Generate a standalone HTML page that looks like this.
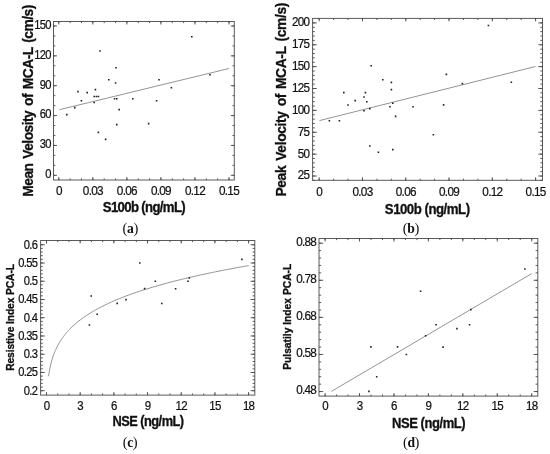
<!DOCTYPE html>
<html><head><meta charset="utf-8"><title>Figure</title>
<style>
html,body{margin:0;padding:0;background:#fff;}
svg{display:block;font-family:"Liberation Sans", sans-serif;}
</style></head><body>
<svg width="550" height="454" viewBox="0 0 550 454">
<rect width="550" height="454" fill="#fff"/>
<rect x="53.5" y="21.5" width="180.80" height="158.50" fill="none" stroke="#5a5a5a" stroke-width="1"/>
<path d="M58.80 180.0v-1.6M58.80 21.5v1.6M70.15 180.0v-1.6M70.15 21.5v1.6M81.49 180.0v-1.6M81.49 21.5v1.6M92.84 180.0v-1.6M92.84 21.5v1.6M104.19 180.0v-1.6M104.19 21.5v1.6M115.53 180.0v-1.6M115.53 21.5v1.6M126.88 180.0v-1.6M126.88 21.5v1.6M138.23 180.0v-1.6M138.23 21.5v1.6M149.57 180.0v-1.6M149.57 21.5v1.6M160.92 180.0v-1.6M160.92 21.5v1.6M172.27 180.0v-1.6M172.27 21.5v1.6M183.61 180.0v-1.6M183.61 21.5v1.6M194.96 180.0v-1.6M194.96 21.5v1.6M206.31 180.0v-1.6M206.31 21.5v1.6M217.65 180.0v-1.6M217.65 21.5v1.6M229.00 180.0v-1.6M229.00 21.5v1.6M58.80 180.0v-3.0M58.80 21.5v3.0M92.84 180.0v-3.0M92.84 21.5v3.0M126.88 180.0v-3.0M126.88 21.5v3.0M160.92 180.0v-3.0M160.92 21.5v3.0M194.96 180.0v-3.0M194.96 21.5v3.0M229.00 180.0v-3.0M229.00 21.5v3.0M53.5 175.30h1.8M234.3 175.30h-1.8M53.5 165.35h1.8M234.3 165.35h-1.8M53.5 155.39h1.8M234.3 155.39h-1.8M53.5 145.44h1.8M234.3 145.44h-1.8M53.5 135.49h1.8M234.3 135.49h-1.8M53.5 125.53h1.8M234.3 125.53h-1.8M53.5 115.58h1.8M234.3 115.58h-1.8M53.5 105.63h1.8M234.3 105.63h-1.8M53.5 95.67h1.8M234.3 95.67h-1.8M53.5 85.72h1.8M234.3 85.72h-1.8M53.5 75.77h1.8M234.3 75.77h-1.8M53.5 65.81h1.8M234.3 65.81h-1.8M53.5 55.86h1.8M234.3 55.86h-1.8M53.5 45.91h1.8M234.3 45.91h-1.8M53.5 35.95h1.8M234.3 35.95h-1.8M53.5 26.00h1.8M234.3 26.00h-1.8M53.5 175.30h3.5M234.3 175.30h-3.5M53.5 145.44h3.5M234.3 145.44h-3.5M53.5 115.58h3.5M234.3 115.58h-3.5M53.5 85.72h3.5M234.3 85.72h-3.5M53.5 55.86h3.5M234.3 55.86h-3.5M53.5 26.00h3.5M234.3 26.00h-3.5" stroke="#484848" stroke-width="0.9" fill="none"/>
<polyline points="59.40,109.70 229.00,68.50" fill="none" stroke="#949494" stroke-width="1"/>
<path d="M99.20 50.20h1.6v1.6h-1.6zM115.20 67.00h1.6v1.6h-1.6zM108.00 79.00h1.6v1.6h-1.6zM114.80 82.20h1.6v1.6h-1.6zM158.20 79.00h1.6v1.6h-1.6zM77.20 90.80h1.6v1.6h-1.6zM86.40 91.80h1.6v1.6h-1.6zM94.60 88.80h1.6v1.6h-1.6zM93.40 95.70h1.6v1.6h-1.6zM95.60 95.70h1.6v1.6h-1.6zM97.60 95.70h1.6v1.6h-1.6zM80.60 100.00h1.6v1.6h-1.6zM93.40 101.70h1.6v1.6h-1.6zM113.80 97.90h1.6v1.6h-1.6zM116.00 97.90h1.6v1.6h-1.6zM132.00 97.90h1.6v1.6h-1.6zM155.80 99.90h1.6v1.6h-1.6zM66.00 113.80h1.6v1.6h-1.6zM74.00 106.80h1.6v1.6h-1.6zM118.40 108.80h1.6v1.6h-1.6zM116.00 123.80h1.6v1.6h-1.6zM97.60 131.60h1.6v1.6h-1.6zM104.80 138.60h1.6v1.6h-1.6zM147.80 122.80h1.6v1.6h-1.6zM191.00 36.00h1.6v1.6h-1.6zM209.20 74.00h1.6v1.6h-1.6zM170.60 87.00h1.6v1.6h-1.6z" fill="#222"/>
<text transform="translate(58.80 194.80) scale(0.9400 1)" text-anchor="middle" font-size="12.5" letter-spacing="-0.75" stroke="#111" stroke-width="0.22" fill="#111">0</text>
<text transform="translate(92.84 194.80) scale(0.9400 1)" text-anchor="middle" font-size="12.5" letter-spacing="-0.75" stroke="#111" stroke-width="0.22" fill="#111">0.03</text>
<text transform="translate(126.88 194.80) scale(0.9400 1)" text-anchor="middle" font-size="12.5" letter-spacing="-0.75" stroke="#111" stroke-width="0.22" fill="#111">0.06</text>
<text transform="translate(160.92 194.80) scale(0.9400 1)" text-anchor="middle" font-size="12.5" letter-spacing="-0.75" stroke="#111" stroke-width="0.22" fill="#111">0.09</text>
<text transform="translate(194.96 194.80) scale(0.9400 1)" text-anchor="middle" font-size="12.5" letter-spacing="-0.75" stroke="#111" stroke-width="0.22" fill="#111">0.12</text>
<text transform="translate(229.00 194.80) scale(0.9400 1)" text-anchor="middle" font-size="12.5" letter-spacing="-0.75" stroke="#111" stroke-width="0.22" fill="#111">0.15</text>
<text transform="translate(50.70 178.20) scale(0.9400 1)" text-anchor="end" font-size="11.9" letter-spacing="-0.75" stroke="#111" stroke-width="0.22" fill="#111">0</text>
<text transform="translate(50.70 148.34) scale(0.9400 1)" text-anchor="end" font-size="11.9" letter-spacing="-0.75" stroke="#111" stroke-width="0.22" fill="#111">30</text>
<text transform="translate(50.70 118.48) scale(0.9400 1)" text-anchor="end" font-size="11.9" letter-spacing="-0.75" stroke="#111" stroke-width="0.22" fill="#111">60</text>
<text transform="translate(50.70 88.62) scale(0.9400 1)" text-anchor="end" font-size="11.9" letter-spacing="-0.75" stroke="#111" stroke-width="0.22" fill="#111">90</text>
<text transform="translate(50.70 58.76) scale(0.9400 1)" text-anchor="end" font-size="11.9" letter-spacing="-0.75" stroke="#111" stroke-width="0.22" fill="#111">120</text>
<text transform="translate(50.70 28.90) scale(0.9400 1)" text-anchor="end" font-size="11.9" letter-spacing="-0.75" stroke="#111" stroke-width="0.22" fill="#111">150</text>
<text transform="translate(143.90 212.25) scale(0.9300 1)" text-anchor="middle" font-size="14.2" font-weight="bold" letter-spacing="-0.716" stroke="#111" stroke-width="0.32" fill="#111">S100b (ng/mL)</text>
<text transform="translate(33.00 101.00) rotate(-90) scale(0.9200 1)" text-anchor="middle" font-size="15.0" font-weight="bold" letter-spacing="-0.56" word-spacing="1.6" stroke="#111" stroke-width="0.32" fill="#111">Mean Velosity of MCA-L (cm/s)</text>
<text x="130.2" y="233.0" text-anchor="middle" font-family="'Liberation Serif', 'DejaVu Serif', serif" font-size="14.6" letter-spacing="-0.35" fill="#111">(<tspan font-weight="bold" font-size="13.6">a</tspan>)</text>
<rect x="312.6" y="18.4" width="229.90" height="161.90" fill="none" stroke="#5a5a5a" stroke-width="1"/>
<path d="M319.20 180.3v-1.6M319.20 18.4v1.6M333.63 180.3v-1.6M333.63 18.4v1.6M348.05 180.3v-1.6M348.05 18.4v1.6M362.48 180.3v-1.6M362.48 18.4v1.6M376.91 180.3v-1.6M376.91 18.4v1.6M391.33 180.3v-1.6M391.33 18.4v1.6M405.76 180.3v-1.6M405.76 18.4v1.6M420.19 180.3v-1.6M420.19 18.4v1.6M434.61 180.3v-1.6M434.61 18.4v1.6M449.04 180.3v-1.6M449.04 18.4v1.6M463.47 180.3v-1.6M463.47 18.4v1.6M477.89 180.3v-1.6M477.89 18.4v1.6M492.32 180.3v-1.6M492.32 18.4v1.6M506.75 180.3v-1.6M506.75 18.4v1.6M521.17 180.3v-1.6M521.17 18.4v1.6M535.60 180.3v-1.6M535.60 18.4v1.6M319.20 180.3v-3.0M319.20 18.4v3.0M362.48 180.3v-3.0M362.48 18.4v3.0M405.76 180.3v-3.0M405.76 18.4v3.0M449.04 180.3v-3.0M449.04 18.4v3.0M492.32 180.3v-3.0M492.32 18.4v3.0M535.60 180.3v-3.0M535.60 18.4v3.0M312.6 180.37h2.2M542.5 180.37h-2.2M312.6 176.00h2.2M542.5 176.00h-2.2M312.6 171.63h2.2M542.5 171.63h-2.2M312.6 167.25h2.2M542.5 167.25h-2.2M312.6 162.88h2.2M542.5 162.88h-2.2M312.6 158.50h2.2M542.5 158.50h-2.2M312.6 154.13h2.2M542.5 154.13h-2.2M312.6 149.75h2.2M542.5 149.75h-2.2M312.6 145.38h2.2M542.5 145.38h-2.2M312.6 141.01h2.2M542.5 141.01h-2.2M312.6 136.63h2.2M542.5 136.63h-2.2M312.6 132.26h2.2M542.5 132.26h-2.2M312.6 127.88h2.2M542.5 127.88h-2.2M312.6 123.51h2.2M542.5 123.51h-2.2M312.6 119.13h2.2M542.5 119.13h-2.2M312.6 114.76h2.2M542.5 114.76h-2.2M312.6 110.39h2.2M542.5 110.39h-2.2M312.6 106.01h2.2M542.5 106.01h-2.2M312.6 101.64h2.2M542.5 101.64h-2.2M312.6 97.26h2.2M542.5 97.26h-2.2M312.6 92.89h2.2M542.5 92.89h-2.2M312.6 88.51h2.2M542.5 88.51h-2.2M312.6 84.14h2.2M542.5 84.14h-2.2M312.6 79.77h2.2M542.5 79.77h-2.2M312.6 75.39h2.2M542.5 75.39h-2.2M312.6 71.02h2.2M542.5 71.02h-2.2M312.6 66.64h2.2M542.5 66.64h-2.2M312.6 62.27h2.2M542.5 62.27h-2.2M312.6 57.89h2.2M542.5 57.89h-2.2M312.6 53.52h2.2M542.5 53.52h-2.2M312.6 49.15h2.2M542.5 49.15h-2.2M312.6 44.77h2.2M542.5 44.77h-2.2M312.6 40.40h2.2M542.5 40.40h-2.2M312.6 36.02h2.2M542.5 36.02h-2.2M312.6 31.65h2.2M542.5 31.65h-2.2M312.6 27.27h2.2M542.5 27.27h-2.2M312.6 22.90h2.2M542.5 22.90h-2.2M312.6 176.00h4.2M542.5 176.00h-4.2M312.6 154.13h4.2M542.5 154.13h-4.2M312.6 132.26h4.2M542.5 132.26h-4.2M312.6 110.39h4.2M542.5 110.39h-4.2M312.6 88.51h4.2M542.5 88.51h-4.2M312.6 66.64h4.2M542.5 66.64h-4.2M312.6 44.77h4.2M542.5 44.77h-4.2M312.6 22.90h4.2M542.5 22.90h-4.2" stroke="#484848" stroke-width="0.9" fill="none"/>
<polyline points="319.40,120.60 535.50,66.50" fill="none" stroke="#949494" stroke-width="1"/>
<path d="M370.40 65.00h1.6v1.6h-1.6zM382.00 79.00h1.6v1.6h-1.6zM390.60 81.60h1.6v1.6h-1.6zM390.60 88.80h1.6v1.6h-1.6zM343.00 91.80h1.6v1.6h-1.6zM364.60 91.80h1.6v1.6h-1.6zM363.20 96.20h1.6v1.6h-1.6zM354.40 99.80h1.6v1.6h-1.6zM366.00 101.00h1.6v1.6h-1.6zM347.20 104.20h1.6v1.6h-1.6zM363.20 110.00h1.6v1.6h-1.6zM369.00 107.80h1.6v1.6h-1.6zM389.20 106.00h1.6v1.6h-1.6zM392.00 102.40h1.6v1.6h-1.6zM412.20 106.00h1.6v1.6h-1.6zM394.80 115.60h1.6v1.6h-1.6zM328.60 120.00h1.6v1.6h-1.6zM338.60 120.00h1.6v1.6h-1.6zM369.00 145.20h1.6v1.6h-1.6zM377.60 151.40h1.6v1.6h-1.6zM392.00 148.80h1.6v1.6h-1.6zM487.60 24.70h1.6v1.6h-1.6zM445.60 73.60h1.6v1.6h-1.6zM461.60 82.80h1.6v1.6h-1.6zM510.50 81.50h1.6v1.6h-1.6zM442.80 104.10h1.6v1.6h-1.6zM432.60 133.90h1.6v1.6h-1.6z" fill="#222"/>
<text transform="translate(319.20 195.60) scale(0.9400 1)" text-anchor="middle" font-size="12.5" letter-spacing="-0.75" stroke="#111" stroke-width="0.22" fill="#111">0</text>
<text transform="translate(362.48 195.60) scale(0.9400 1)" text-anchor="middle" font-size="12.5" letter-spacing="-0.75" stroke="#111" stroke-width="0.22" fill="#111">0.03</text>
<text transform="translate(405.76 195.60) scale(0.9400 1)" text-anchor="middle" font-size="12.5" letter-spacing="-0.75" stroke="#111" stroke-width="0.22" fill="#111">0.06</text>
<text transform="translate(449.04 195.60) scale(0.9400 1)" text-anchor="middle" font-size="12.5" letter-spacing="-0.75" stroke="#111" stroke-width="0.22" fill="#111">0.09</text>
<text transform="translate(492.32 195.60) scale(0.9400 1)" text-anchor="middle" font-size="12.5" letter-spacing="-0.75" stroke="#111" stroke-width="0.22" fill="#111">0.12</text>
<text transform="translate(535.60 195.60) scale(0.9400 1)" text-anchor="middle" font-size="12.5" letter-spacing="-0.75" stroke="#111" stroke-width="0.22" fill="#111">0.15</text>
<text transform="translate(309.30 179.40) scale(0.9400 1)" text-anchor="end" font-size="12.4" letter-spacing="-0.75" stroke="#111" stroke-width="0.22" fill="#111">25</text>
<text transform="translate(309.30 157.53) scale(0.9400 1)" text-anchor="end" font-size="12.4" letter-spacing="-0.75" stroke="#111" stroke-width="0.22" fill="#111">50</text>
<text transform="translate(309.30 135.66) scale(0.9400 1)" text-anchor="end" font-size="12.4" letter-spacing="-0.75" stroke="#111" stroke-width="0.22" fill="#111">75</text>
<text transform="translate(309.30 113.79) scale(0.9400 1)" text-anchor="end" font-size="12.4" letter-spacing="-0.75" stroke="#111" stroke-width="0.22" fill="#111">100</text>
<text transform="translate(309.30 91.91) scale(0.9400 1)" text-anchor="end" font-size="12.4" letter-spacing="-0.75" stroke="#111" stroke-width="0.22" fill="#111">125</text>
<text transform="translate(309.30 70.04) scale(0.9400 1)" text-anchor="end" font-size="12.4" letter-spacing="-0.75" stroke="#111" stroke-width="0.22" fill="#111">150</text>
<text transform="translate(309.30 48.17) scale(0.9400 1)" text-anchor="end" font-size="12.4" letter-spacing="-0.75" stroke="#111" stroke-width="0.22" fill="#111">175</text>
<text transform="translate(309.30 26.30) scale(0.9400 1)" text-anchor="end" font-size="12.4" letter-spacing="-0.75" stroke="#111" stroke-width="0.22" fill="#111">200</text>
<text transform="translate(427.20 213.50) scale(0.9300 1)" text-anchor="middle" font-size="14.2" font-weight="bold" letter-spacing="-0.509" stroke="#111" stroke-width="0.32" fill="#111">S100b (ng/mL)</text>
<text transform="translate(285.70 99.80) rotate(-90) scale(0.9200 1)" text-anchor="middle" font-size="15.0" font-weight="bold" letter-spacing="-0.368" word-spacing="1.6" stroke="#111" stroke-width="0.32" fill="#111">Peak Velocity of MCA-L (cm/s)</text>
<text x="410.8" y="232.7" text-anchor="middle" font-family="'Liberation Serif', 'DejaVu Serif', serif" font-size="14.6" letter-spacing="-0.35" fill="#111">(<tspan font-weight="bold" font-size="13.6">b</tspan>)</text>
<rect x="40.6" y="240.5" width="214.20" height="154.60" fill="none" stroke="#5a5a5a" stroke-width="1"/>
<path d="M46.50 395.1v-1.6M46.50 240.5v1.6M57.73 395.1v-1.6M57.73 240.5v1.6M68.96 395.1v-1.6M68.96 240.5v1.6M80.18 395.1v-1.6M80.18 240.5v1.6M91.41 395.1v-1.6M91.41 240.5v1.6M102.64 395.1v-1.6M102.64 240.5v1.6M113.87 395.1v-1.6M113.87 240.5v1.6M125.09 395.1v-1.6M125.09 240.5v1.6M136.32 395.1v-1.6M136.32 240.5v1.6M147.55 395.1v-1.6M147.55 240.5v1.6M158.78 395.1v-1.6M158.78 240.5v1.6M170.01 395.1v-1.6M170.01 240.5v1.6M181.23 395.1v-1.6M181.23 240.5v1.6M192.46 395.1v-1.6M192.46 240.5v1.6M203.69 395.1v-1.6M203.69 240.5v1.6M214.92 395.1v-1.6M214.92 240.5v1.6M226.14 395.1v-1.6M226.14 240.5v1.6M237.37 395.1v-1.6M237.37 240.5v1.6M248.60 395.1v-1.6M248.60 240.5v1.6M46.50 395.1v-3.0M46.50 240.5v3.0M80.18 395.1v-3.0M80.18 240.5v3.0M113.87 395.1v-3.0M113.87 240.5v3.0M147.55 395.1v-3.0M147.55 240.5v3.0M181.23 395.1v-3.0M181.23 240.5v3.0M214.92 395.1v-3.0M214.92 240.5v3.0M248.60 395.1v-3.0M248.60 240.5v3.0M40.6 390.70h2.2M254.8 390.70h-2.2M40.6 387.05h2.2M254.8 387.05h-2.2M40.6 383.40h2.2M254.8 383.40h-2.2M40.6 379.75h2.2M254.8 379.75h-2.2M40.6 376.10h2.2M254.8 376.10h-2.2M40.6 372.46h2.2M254.8 372.46h-2.2M40.6 368.81h2.2M254.8 368.81h-2.2M40.6 365.16h2.2M254.8 365.16h-2.2M40.6 361.51h2.2M254.8 361.51h-2.2M40.6 357.86h2.2M254.8 357.86h-2.2M40.6 354.21h2.2M254.8 354.21h-2.2M40.6 350.56h2.2M254.8 350.56h-2.2M40.6 346.91h2.2M254.8 346.91h-2.2M40.6 343.27h2.2M254.8 343.27h-2.2M40.6 339.62h2.2M254.8 339.62h-2.2M40.6 335.97h2.2M254.8 335.97h-2.2M40.6 332.32h2.2M254.8 332.32h-2.2M40.6 328.67h2.2M254.8 328.67h-2.2M40.6 325.02h2.2M254.8 325.02h-2.2M40.6 321.37h2.2M254.8 321.37h-2.2M40.6 317.72h2.2M254.8 317.72h-2.2M40.6 314.08h2.2M254.8 314.08h-2.2M40.6 310.43h2.2M254.8 310.43h-2.2M40.6 306.78h2.2M254.8 306.78h-2.2M40.6 303.13h2.2M254.8 303.13h-2.2M40.6 299.48h2.2M254.8 299.48h-2.2M40.6 295.83h2.2M254.8 295.83h-2.2M40.6 292.18h2.2M254.8 292.18h-2.2M40.6 288.53h2.2M254.8 288.53h-2.2M40.6 284.89h2.2M254.8 284.89h-2.2M40.6 281.24h2.2M254.8 281.24h-2.2M40.6 277.59h2.2M254.8 277.59h-2.2M40.6 273.94h2.2M254.8 273.94h-2.2M40.6 270.29h2.2M254.8 270.29h-2.2M40.6 266.64h2.2M254.8 266.64h-2.2M40.6 262.99h2.2M254.8 262.99h-2.2M40.6 259.34h2.2M254.8 259.34h-2.2M40.6 255.70h2.2M254.8 255.70h-2.2M40.6 252.05h2.2M254.8 252.05h-2.2M40.6 248.40h2.2M254.8 248.40h-2.2M40.6 244.75h2.2M254.8 244.75h-2.2M40.6 390.70h4.2M254.8 390.70h-4.2M40.6 372.46h4.2M254.8 372.46h-4.2M40.6 354.21h4.2M254.8 354.21h-4.2M40.6 335.97h4.2M254.8 335.97h-4.2M40.6 317.72h4.2M254.8 317.72h-4.2M40.6 299.48h4.2M254.8 299.48h-4.2M40.6 281.24h4.2M254.8 281.24h-4.2M40.6 262.99h4.2M254.8 262.99h-4.2M40.6 244.75h4.2M254.8 244.75h-4.2" stroke="#484848" stroke-width="0.9" fill="none"/>
<polyline points="48.60,376.21 49.16,372.43 49.72,369.24 50.28,366.49 50.85,364.05 51.41,361.86 51.97,359.87 52.53,358.04 53.09,356.34 53.65,354.76 54.21,353.28 54.77,351.88 55.34,350.56 55.90,349.30 56.46,348.11 57.02,346.97 57.58,345.88 58.14,344.83 58.70,343.83 59.27,342.86 59.83,341.92 60.39,341.02 60.95,340.15 61.51,339.30 62.07,338.48 62.63,337.68 63.20,336.91 63.76,336.16 64.32,335.43 64.88,334.71 65.44,334.01 66.00,333.34 66.56,332.67 67.13,332.02 67.69,331.39 68.25,330.77 68.81,330.16 69.37,329.56 72.18,326.76 74.98,324.19 77.79,321.82 80.60,319.63 83.41,317.57 86.21,315.64 89.02,313.82 91.83,312.10 94.63,310.46 97.44,308.90 100.25,307.40 103.05,305.97 105.86,304.60 108.67,303.28 111.48,302.00 114.28,300.78 117.09,299.59 119.90,298.44 122.70,297.32 125.51,296.24 128.32,295.19 131.12,294.17 133.93,293.18 136.74,292.21 139.54,291.27 142.35,290.35 145.16,289.45 147.97,288.58 150.77,287.72 153.58,286.88 156.39,286.06 159.19,285.26 162.00,284.47 164.81,283.70 167.61,282.94 170.42,282.20 173.23,281.47 176.03,280.75 178.84,280.05 181.65,279.36 184.46,278.68 187.26,278.01 190.07,277.35 192.88,276.71 195.68,276.07 198.49,275.44 201.30,274.82 204.10,274.22 206.91,273.62 209.72,273.03 212.53,272.44 215.33,271.87 218.14,271.30 220.95,270.74 223.75,270.19 226.56,269.64 229.37,269.11 232.17,268.58 234.98,268.05 237.79,267.53 240.59,267.02 243.40,266.51 246.21,266.01 248.60,265.59" fill="none" stroke="#949494" stroke-width="1"/>
<path d="M139.00 262.20h1.6v1.6h-1.6zM90.40 295.20h1.6v1.6h-1.6zM116.40 302.60h1.6v1.6h-1.6zM125.20 298.80h1.6v1.6h-1.6zM96.40 313.40h1.6v1.6h-1.6zM88.60 324.20h1.6v1.6h-1.6zM143.80 287.80h1.6v1.6h-1.6zM241.10 258.60h1.6v1.6h-1.6zM154.50 280.50h1.6v1.6h-1.6zM188.50 277.20h1.6v1.6h-1.6zM187.20 280.50h1.6v1.6h-1.6zM174.80 287.90h1.6v1.6h-1.6zM161.00 302.70h1.6v1.6h-1.6z" fill="#222"/>
<text transform="translate(46.50 409.60) scale(0.9400 1)" text-anchor="middle" font-size="12.2" letter-spacing="-0.75" stroke="#111" stroke-width="0.22" fill="#111">0</text>
<text transform="translate(80.18 409.60) scale(0.9400 1)" text-anchor="middle" font-size="12.2" letter-spacing="-0.75" stroke="#111" stroke-width="0.22" fill="#111">3</text>
<text transform="translate(113.87 409.60) scale(0.9400 1)" text-anchor="middle" font-size="12.2" letter-spacing="-0.75" stroke="#111" stroke-width="0.22" fill="#111">6</text>
<text transform="translate(147.55 409.60) scale(0.9400 1)" text-anchor="middle" font-size="12.2" letter-spacing="-0.75" stroke="#111" stroke-width="0.22" fill="#111">9</text>
<text transform="translate(181.23 409.60) scale(0.9400 1)" text-anchor="middle" font-size="12.2" letter-spacing="-0.75" stroke="#111" stroke-width="0.22" fill="#111">12</text>
<text transform="translate(214.92 409.60) scale(0.9400 1)" text-anchor="middle" font-size="12.2" letter-spacing="-0.75" stroke="#111" stroke-width="0.22" fill="#111">15</text>
<text transform="translate(248.60 409.60) scale(0.9400 1)" text-anchor="middle" font-size="12.2" letter-spacing="-0.75" stroke="#111" stroke-width="0.22" fill="#111">18</text>
<text transform="translate(37.20 394.50) scale(0.9400 1)" text-anchor="end" font-size="11.9" letter-spacing="-0.75" stroke="#111" stroke-width="0.22" fill="#111">0.2</text>
<text transform="translate(37.20 376.26) scale(0.9400 1)" text-anchor="end" font-size="11.9" letter-spacing="-0.75" stroke="#111" stroke-width="0.22" fill="#111">0.25</text>
<text transform="translate(37.20 358.01) scale(0.9400 1)" text-anchor="end" font-size="11.9" letter-spacing="-0.75" stroke="#111" stroke-width="0.22" fill="#111">0.3</text>
<text transform="translate(37.20 339.77) scale(0.9400 1)" text-anchor="end" font-size="11.9" letter-spacing="-0.75" stroke="#111" stroke-width="0.22" fill="#111">0.35</text>
<text transform="translate(37.20 321.52) scale(0.9400 1)" text-anchor="end" font-size="11.9" letter-spacing="-0.75" stroke="#111" stroke-width="0.22" fill="#111">0.4</text>
<text transform="translate(37.20 303.28) scale(0.9400 1)" text-anchor="end" font-size="11.9" letter-spacing="-0.75" stroke="#111" stroke-width="0.22" fill="#111">0.45</text>
<text transform="translate(37.20 285.04) scale(0.9400 1)" text-anchor="end" font-size="11.9" letter-spacing="-0.75" stroke="#111" stroke-width="0.22" fill="#111">0.5</text>
<text transform="translate(37.20 266.79) scale(0.9400 1)" text-anchor="end" font-size="11.9" letter-spacing="-0.75" stroke="#111" stroke-width="0.22" fill="#111">0.55</text>
<text transform="translate(37.20 248.55) scale(0.9400 1)" text-anchor="end" font-size="11.9" letter-spacing="-0.75" stroke="#111" stroke-width="0.22" fill="#111">0.6</text>
<text transform="translate(148.00 426.30) scale(0.9300 1)" text-anchor="middle" font-size="13.8" font-weight="bold" letter-spacing="-0.559" stroke="#111" stroke-width="0.32" fill="#111">NSE (ng/mL)</text>
<text transform="translate(13.60 317.50) rotate(-90) scale(0.9500 1)" text-anchor="middle" font-size="10.8" font-weight="bold" letter-spacing="-0.1" stroke="#111" stroke-width="0.32" fill="#111">Resistive Index PCA-L</text>
<text x="130" y="447.2" text-anchor="middle" font-family="'Liberation Serif', 'DejaVu Serif', serif" font-size="14.6" letter-spacing="-0.35" fill="#111">(<tspan font-weight="bold" font-size="13.6">c</tspan>)</text>
<rect x="319.0" y="238.5" width="218.80" height="157.60" fill="none" stroke="#5a5a5a" stroke-width="1"/>
<path d="M325.10 396.1v-1.6M325.10 238.5v1.6M336.58 396.1v-1.6M336.58 238.5v1.6M348.06 396.1v-1.6M348.06 238.5v1.6M359.53 396.1v-1.6M359.53 238.5v1.6M371.01 396.1v-1.6M371.01 238.5v1.6M382.49 396.1v-1.6M382.49 238.5v1.6M393.97 396.1v-1.6M393.97 238.5v1.6M405.44 396.1v-1.6M405.44 238.5v1.6M416.92 396.1v-1.6M416.92 238.5v1.6M428.40 396.1v-1.6M428.40 238.5v1.6M439.88 396.1v-1.6M439.88 238.5v1.6M451.36 396.1v-1.6M451.36 238.5v1.6M462.83 396.1v-1.6M462.83 238.5v1.6M474.31 396.1v-1.6M474.31 238.5v1.6M485.79 396.1v-1.6M485.79 238.5v1.6M497.27 396.1v-1.6M497.27 238.5v1.6M508.74 396.1v-1.6M508.74 238.5v1.6M520.22 396.1v-1.6M520.22 238.5v1.6M531.70 396.1v-1.6M531.70 238.5v1.6M325.10 396.1v-3.0M325.10 238.5v3.0M359.53 396.1v-3.0M359.53 238.5v3.0M393.97 396.1v-3.0M393.97 238.5v3.0M428.40 396.1v-3.0M428.40 238.5v3.0M462.83 396.1v-3.0M462.83 238.5v3.0M497.27 396.1v-3.0M497.27 238.5v3.0M531.70 396.1v-3.0M531.70 238.5v3.0M319.0 391.55h2.2M537.8 391.55h-2.2M319.0 384.13h2.2M537.8 384.13h-2.2M319.0 376.71h2.2M537.8 376.71h-2.2M319.0 369.30h2.2M537.8 369.30h-2.2M319.0 361.88h2.2M537.8 361.88h-2.2M319.0 354.46h2.2M537.8 354.46h-2.2M319.0 347.05h2.2M537.8 347.05h-2.2M319.0 339.63h2.2M537.8 339.63h-2.2M319.0 332.21h2.2M537.8 332.21h-2.2M319.0 324.79h2.2M537.8 324.79h-2.2M319.0 317.38h2.2M537.8 317.38h-2.2M319.0 309.96h2.2M537.8 309.96h-2.2M319.0 302.54h2.2M537.8 302.54h-2.2M319.0 295.12h2.2M537.8 295.12h-2.2M319.0 287.70h2.2M537.8 287.70h-2.2M319.0 280.29h2.2M537.8 280.29h-2.2M319.0 272.87h2.2M537.8 272.87h-2.2M319.0 265.45h2.2M537.8 265.45h-2.2M319.0 258.03h2.2M537.8 258.03h-2.2M319.0 250.62h2.2M537.8 250.62h-2.2M319.0 243.20h2.2M537.8 243.20h-2.2M319.0 391.55h4.2M537.8 391.55h-4.2M319.0 354.46h4.2M537.8 354.46h-4.2M319.0 317.38h4.2M537.8 317.38h-4.2M319.0 280.29h4.2M537.8 280.29h-4.2M319.0 243.20h4.2M537.8 243.20h-4.2" stroke="#484848" stroke-width="0.9" fill="none"/>
<polyline points="331.40,391.40 531.70,273.60" fill="none" stroke="#949494" stroke-width="1"/>
<path d="M370.10 346.10h1.6v1.6h-1.6zM396.70 346.10h1.6v1.6h-1.6zM405.60 353.70h1.6v1.6h-1.6zM424.80 334.90h1.6v1.6h-1.6zM375.90 376.00h1.6v1.6h-1.6zM368.10 390.60h1.6v1.6h-1.6zM419.80 290.50h1.6v1.6h-1.6zM524.10 268.20h1.6v1.6h-1.6zM470.00 308.80h1.6v1.6h-1.6zM435.30 323.90h1.6v1.6h-1.6zM468.70 323.90h1.6v1.6h-1.6zM456.10 327.80h1.6v1.6h-1.6zM442.30 346.30h1.6v1.6h-1.6z" fill="#222"/>
<text transform="translate(325.10 410.40) scale(0.9400 1)" text-anchor="middle" font-size="12.3" letter-spacing="-0.75" stroke="#111" stroke-width="0.22" fill="#111">0</text>
<text transform="translate(359.53 410.40) scale(0.9400 1)" text-anchor="middle" font-size="12.3" letter-spacing="-0.75" stroke="#111" stroke-width="0.22" fill="#111">3</text>
<text transform="translate(393.97 410.40) scale(0.9400 1)" text-anchor="middle" font-size="12.3" letter-spacing="-0.75" stroke="#111" stroke-width="0.22" fill="#111">6</text>
<text transform="translate(428.40 410.40) scale(0.9400 1)" text-anchor="middle" font-size="12.3" letter-spacing="-0.75" stroke="#111" stroke-width="0.22" fill="#111">9</text>
<text transform="translate(462.83 410.40) scale(0.9400 1)" text-anchor="middle" font-size="12.3" letter-spacing="-0.75" stroke="#111" stroke-width="0.22" fill="#111">12</text>
<text transform="translate(497.27 410.40) scale(0.9400 1)" text-anchor="middle" font-size="12.3" letter-spacing="-0.75" stroke="#111" stroke-width="0.22" fill="#111">15</text>
<text transform="translate(531.70 410.40) scale(0.9400 1)" text-anchor="middle" font-size="12.3" letter-spacing="-0.75" stroke="#111" stroke-width="0.22" fill="#111">18</text>
<text transform="translate(316.20 394.45) scale(0.9400 1)" text-anchor="end" font-size="12.5" letter-spacing="-0.75" stroke="#111" stroke-width="0.22" fill="#111">0.48</text>
<text transform="translate(316.20 357.36) scale(0.9400 1)" text-anchor="end" font-size="12.5" letter-spacing="-0.75" stroke="#111" stroke-width="0.22" fill="#111">0.58</text>
<text transform="translate(316.20 320.27) scale(0.9400 1)" text-anchor="end" font-size="12.5" letter-spacing="-0.75" stroke="#111" stroke-width="0.22" fill="#111">0.68</text>
<text transform="translate(316.20 283.19) scale(0.9400 1)" text-anchor="end" font-size="12.5" letter-spacing="-0.75" stroke="#111" stroke-width="0.22" fill="#111">0.78</text>
<text transform="translate(316.20 246.10) scale(0.9400 1)" text-anchor="end" font-size="12.5" letter-spacing="-0.75" stroke="#111" stroke-width="0.22" fill="#111">0.88</text>
<text transform="translate(428.60 428.40) scale(0.9300 1)" text-anchor="middle" font-size="14.0" font-weight="bold" letter-spacing="-0.485" stroke="#111" stroke-width="0.32" fill="#111">NSE (ng/mL)</text>
<text transform="translate(291.20 316.80) rotate(-90) scale(0.9500 1)" text-anchor="middle" font-size="10.8" font-weight="bold" letter-spacing="0.008" stroke="#111" stroke-width="0.32" fill="#111">Pulsatily Index PCA-L</text>
<text x="411" y="446.5" text-anchor="middle" font-family="'Liberation Serif', 'DejaVu Serif', serif" font-size="14.6" letter-spacing="-0.35" fill="#111">(<tspan font-weight="bold" font-size="13.6">d</tspan>)</text>
</svg>
</body></html>
